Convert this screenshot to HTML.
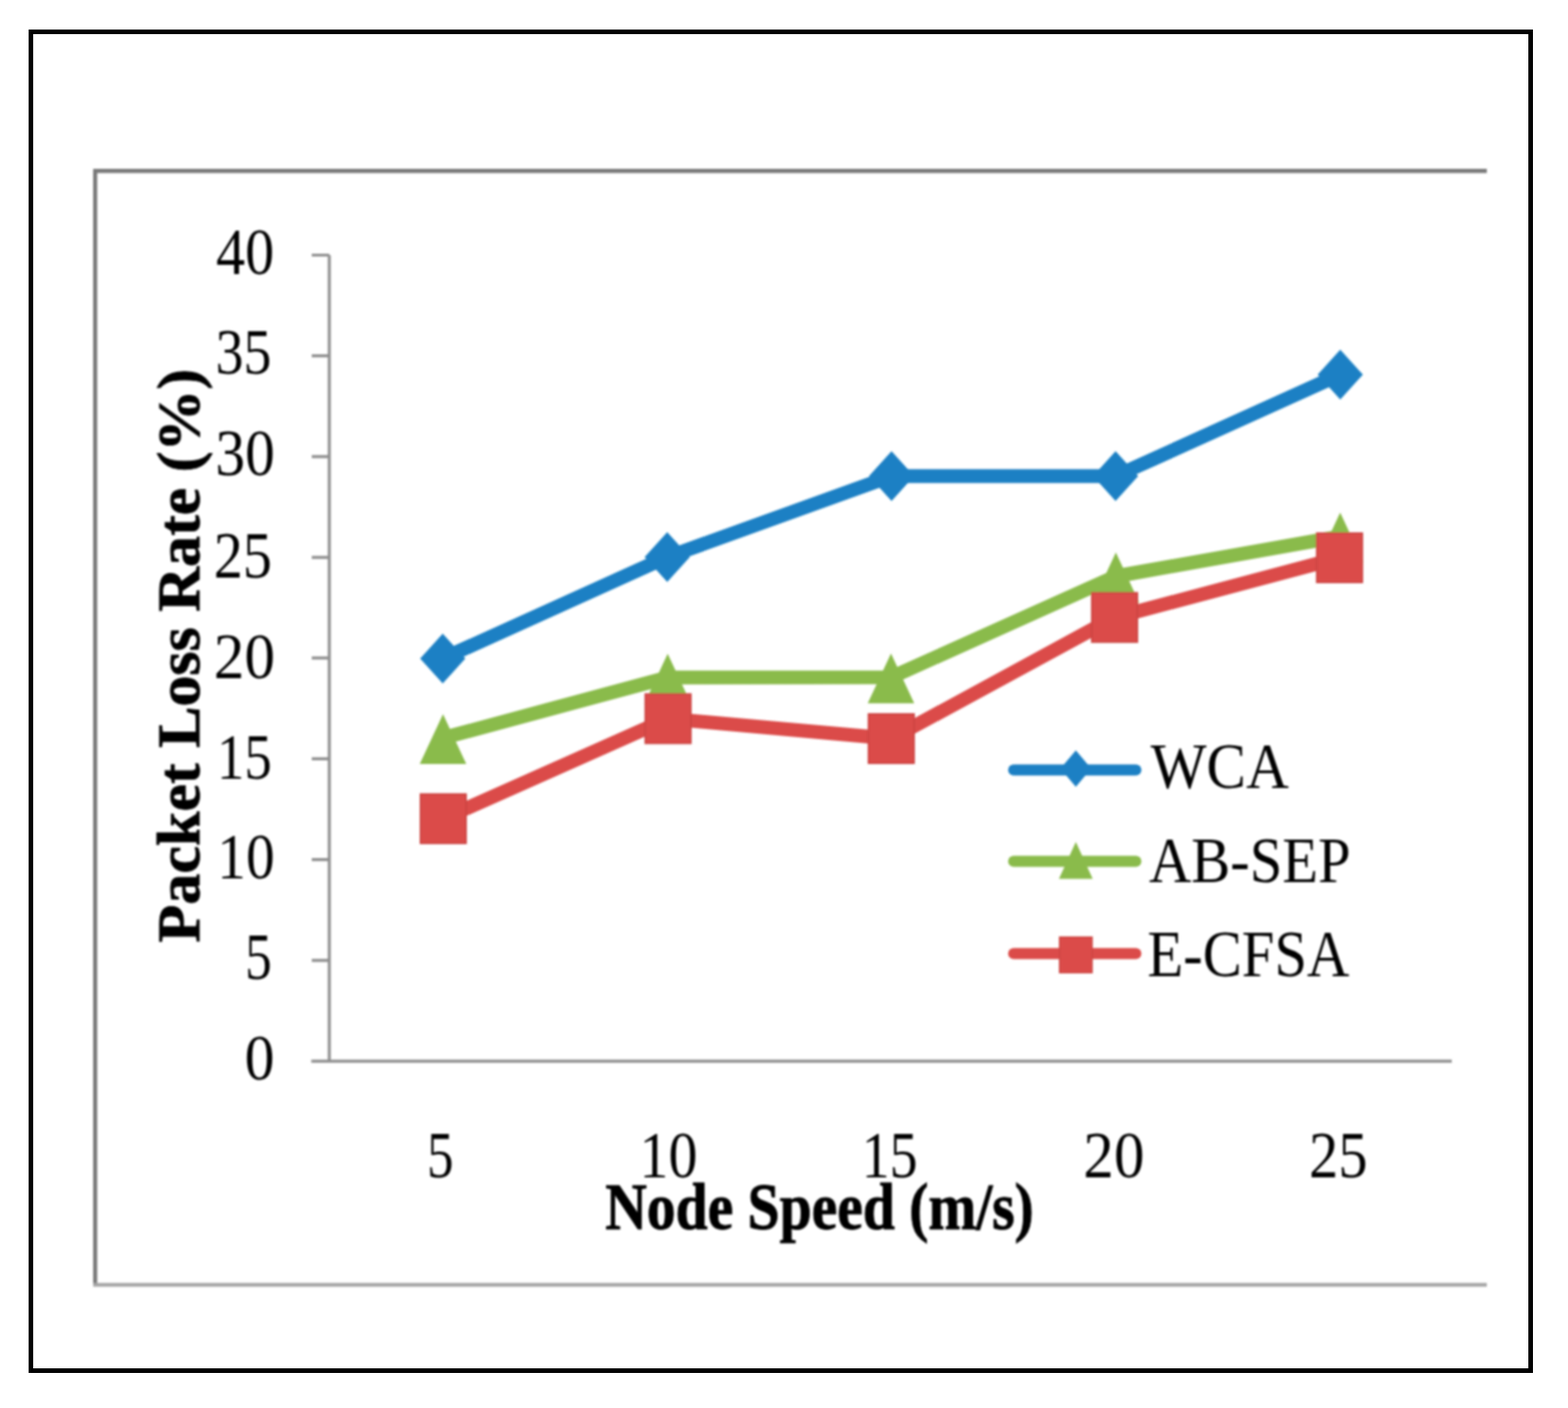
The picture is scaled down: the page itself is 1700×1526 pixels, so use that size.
<!DOCTYPE html>
<html>
<head>
<meta charset="utf-8">
<title>Packet Loss Rate vs Node Speed</title>
<style>
html,body{margin:0;padding:0;background:#fff;width:1700px;height:1526px;overflow:hidden;}
svg{display:block;}
.t{font-family:"Liberation Serif","Times New Roman",serif;font-size:66px;fill:#000;}
.b{font-weight:bold;stroke:#000;stroke-width:0.9px;}
</style>
</head>
<body>
<svg width="1700" height="1526" viewBox="0 0 1700 1526">
<defs><filter id="soft" x="0" y="0" width="1700" height="1526" filterUnits="userSpaceOnUse"><feGaussianBlur stdDeviation="0.9"/></filter></defs>
<rect x="0" y="0" width="1700" height="1526" fill="#fff"/>
<g filter="url(#soft)">
<path d="M1612,185.3 H103.2 V1391" fill="none" stroke="#787878" stroke-width="4.4"/>
<path d="M101,1392.4 H1612" fill="none" stroke="#a4a4a4" stroke-width="4"/>
<g stroke="#8e8e8e" stroke-width="3.2" fill="none">
<path d="M357,276.5 V1150"/>
<path d="M337.5,1150.2 H1574"/>
<path d="M338,1040.8 H357 M338,931.6 H357 M338,822.4 H357 M338,713.2 H357 M338,604.1 H357 M338,494.9 H357 M338,385.7 H357 M338,276.5 H357"/>
</g>
<text class="t" text-anchor="end" transform="translate(297.26,296.70) scale(0.9548,1.0744)">40</text>
<text class="t" text-anchor="end" transform="translate(294.15,405.20) scale(0.9167,1.0605)">35</text>
<text class="t" text-anchor="end" transform="translate(298.03,514.50) scale(0.9767,1.0767)">30</text>
<text class="t" text-anchor="end" transform="translate(294.87,626.30) scale(0.9567,1.0767)">25</text>
<text class="t" text-anchor="end" transform="translate(298.12,734.70) scale(1.0067,1.0651)">20</text>
<text class="t" text-anchor="end" transform="translate(294.70,843.50) scale(0.9000,1.0698)">15</text>
<text class="t" text-anchor="end" transform="translate(297.73,952.20) scale(0.9421,1.0581)">10</text>
<text class="t" text-anchor="end" transform="translate(294.63,1061.00) scale(0.8769,1.0791)">5</text>
<text class="t" text-anchor="end" transform="translate(297.64,1169.70) scale(0.9815,1.0628)">0</text>
<text class="t" text-anchor="middle" transform="translate(477.41,1275.70) scale(0.8704,1.0814)">5</text>
<text class="t" text-anchor="middle" transform="translate(724.67,1276.20) scale(0.9544,1.0930)">10</text>
<text class="t" text-anchor="middle" transform="translate(964.52,1276.20) scale(0.9193,1.0930)">15</text>
<text class="t" text-anchor="middle" transform="translate(1207.65,1276.00) scale(1.0017,1.1000)">20</text>
<text class="t" text-anchor="middle" transform="translate(1450.90,1276.00) scale(0.9600,1.0860)">25</text>
<text class="t" text-anchor="start" transform="translate(1247.40,854.44) scale(0.9739,1.0568)">WCA</text>
<text class="t" text-anchor="start" transform="translate(1245.74,955.50) scale(0.9607,1.0698)">AB-SEP</text>
<text class="t" text-anchor="start" transform="translate(1243.97,1058.00) scale(0.9631,1.0837)">E-CFSA</text>
<text class="t b" text-anchor="middle" transform="translate(888.57,1331.60) scale(0.9458,1.0767)">Node Speed (m/s)</text>
<text class="t b" text-anchor="middle" transform="translate(215.60,710.68) scale(0.9837,1.0185) rotate(-90)">Packet Loss Rate (%)</text>
<g fill="none" stroke-width="15" stroke-linejoin="round" stroke-linecap="round">
<polyline stroke="#1f80c4" points="480.0,713.7 723.4,603.7 966.6,516.0 1209.5,516.0 1453.1,405.9"/>
<polyline stroke="#8abb4c" points="480.3,799.8 723.9,734.2 966.0,734.1 1209.8,624.5 1453.0,581.3"/>
<polyline stroke="#db4b49" points="480.6,887.3 724.3,778.9 966.3,800.5 1208.4,669.2 1452.3,604.5"/>
</g>
<g fill="#1f80c4"><path d="M480.0,686.7 L504.5,713.7 L480.0,740.7 L455.5,713.7Z"/><path d="M723.4,576.7 L747.9,603.7 L723.4,630.7 L698.9,603.7Z"/><path d="M966.6,489.0 L991.1,516.0 L966.6,543.0 L942.1,516.0Z"/><path d="M1209.5,489.0 L1234.0,516.0 L1209.5,543.0 L1185.0,516.0Z"/><path d="M1453.1,378.9 L1477.6,405.9 L1453.1,432.9 L1428.6,405.9Z"/></g>
<g fill="#8abb4c"><path d="M480.3,774.0 L505.5,828.0 L455.1,828.0Z"/><path d="M723.9,708.4 L749.1,762.4 L698.7,762.4Z"/><path d="M966.0,708.3 L991.2,762.3 L940.8,762.3Z"/><path d="M1209.8,598.7 L1235.0,652.7 L1184.6,652.7Z"/><path d="M1453.0,555.5 L1478.2,609.5 L1427.8,609.5Z"/></g>
<g fill="#db4b49" stroke="#c94341" stroke-width="1.5"><rect x="455.8" y="860.5" width="49.6" height="53.6"/><rect x="699.5" y="752.1" width="49.6" height="53.6"/><rect x="941.5" y="773.7" width="49.6" height="53.6"/><rect x="1183.6" y="642.4" width="49.6" height="53.6"/><rect x="1427.5" y="577.7" width="49.6" height="53.6"/></g>
<g stroke-width="12" stroke-linecap="round">
<path d="M1099,834.4 H1231.5" stroke="#1f80c4"/>
<path d="M1099,933.6 H1231.5" stroke="#8abb4c"/>
<path d="M1099,1033.4 H1231.5" stroke="#db4b49"/>
</g>
<g fill="#1f80c4"><path d="M1166.4,813.2 L1183.1,833.0 L1166.4,852.8 L1149.7,833.0Z"/></g>
<g fill="#8abb4c"><path d="M1166.4,912.4 L1184.7,952.4 L1148.1,952.4Z"/></g>
<g fill="#db4b49" stroke="#c94341" stroke-width="1.2"><rect x="1148.7" y="1015.5" width="35.4" height="38.8"/></g>
</g>
<rect x="33.5" y="34.5" width="1626" height="1451" fill="none" stroke="#000" stroke-width="5"/>
</svg>
</body>
</html>
